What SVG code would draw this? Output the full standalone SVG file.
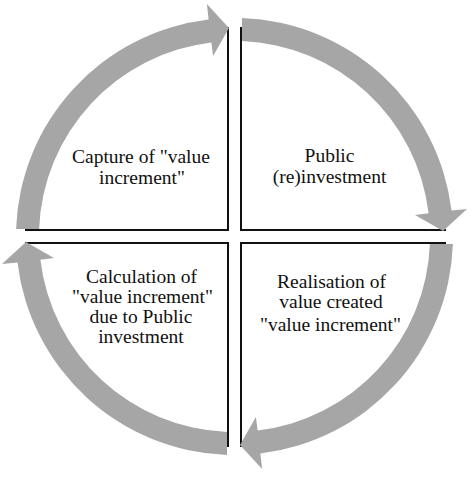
<svg xmlns="http://www.w3.org/2000/svg" xmlns:xlink="http://www.w3.org/1999/xlink" width="474" height="477" viewBox="0 0 474 477">
  <style>
    .edge { fill: none; stroke: #111; stroke-width: 2; }
    .lbl { font-family: 'Liberation Serif', 'Times New Roman', serif; font-size: 19.5px; fill: #111; text-anchor: middle; }
    .arrow { fill: #a6a6a6; }
  </style>
  <defs>
    <path id="arc-arrow" d="M 16.1 229 A 218.5 218.5 0 0 1 208.6 19.5 L 206.9 4 L 229 28 L 213.1 56 L 211.35 42.4 A 195.5 195.5 0 0 0 39.1 229 Z"/>
  </defs>
  <rect width="474" height="477" fill="#ffffff"/>

  <g id="node-capture">
    <polyline class="edge" points="25,230 228,230 228,27"/>
    <text class="lbl" x="141" y="162.7">Capture of "value</text>
    <text class="lbl" x="142" y="183.5">increment"</text>
  </g>

  <g id="node-reinvestment">
    <polyline class="edge" points="241,27 241,230 446,230"/>
    <text class="lbl" x="329.5" y="161.7">Public</text>
    <text class="lbl" x="329.5" y="182.7">(re)investment</text>
  </g>

  <g id="node-calculation">
    <polyline class="edge" points="25,243 228,243 228,447"/>
    <text class="lbl" x="141.5" y="282.7">Calculation of</text>
    <text class="lbl" x="142.5" y="302.7">"value increment"</text>
    <text class="lbl" x="141" y="322.7">due to Public</text>
    <text class="lbl" x="141" y="342.7">investment</text>
  </g>

  <g id="node-realisation">
    <polyline class="edge" points="446,243 241,243 241,447"/>
    <text class="lbl" x="331.5" y="288.3">Realisation of</text>
    <text class="lbl" x="331" y="308.3">value created</text>
    <text class="lbl" x="330.5" y="331">"value increment"</text>
  </g>

  <g id="connectors">
    <use class="arrow" xlink:href="#arc-arrow" href="#arc-arrow"/>
    <use class="arrow" xlink:href="#arc-arrow" href="#arc-arrow" transform="rotate(90 234.5 236.5)"/>
    <use class="arrow" xlink:href="#arc-arrow" href="#arc-arrow" transform="rotate(180 234.5 236.5)"/>
    <use class="arrow" xlink:href="#arc-arrow" href="#arc-arrow" transform="rotate(270 234.5 236.5)"/>
  </g>
</svg>
